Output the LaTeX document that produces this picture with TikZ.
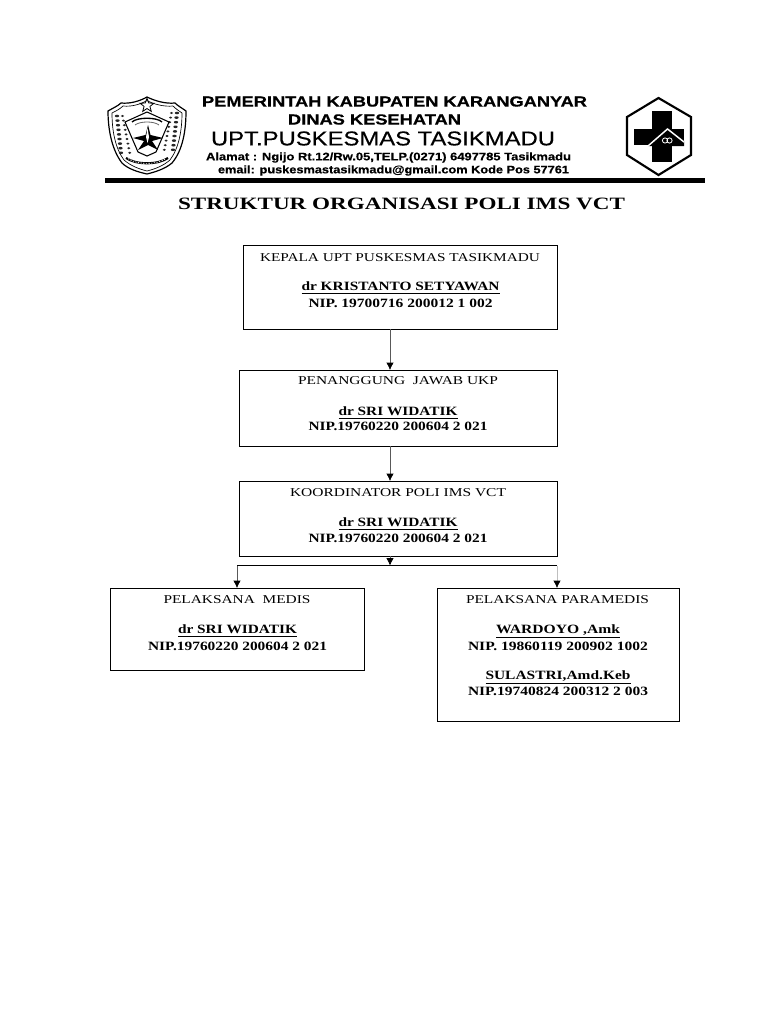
\documentclass[tikz,border=0pt]{standalone}
\usepackage{fontspec}
\usepackage{graphicx}
\setmainfont{Liberation Serif}
\setsansfont{Liberation Sans}[BoldFeatures={FakeBold=0.5}]
\newfontfamily\upfont[FakeBold=0.35]{Liberation Sans}
\usetikzlibrary{arrows.meta,shapes.geometric}
\newsavebox{\fitbox}
\newcommand{\fitw}[2]{\sbox{\fitbox}{#2}\pgfmathparse{#1*0.75/\the\wd\fitbox}\scalebox{\pgfmathresult}[1]{\usebox{\fitbox}}}
\tikzset{
  x=0.75pt,y=-0.75pt,
  orgbox/.style={draw=black,line width=0.6pt,fill=white,inner sep=0pt,outer sep=0pt},
  txt/.style={inner sep=0pt,outer sep=0pt,anchor=center,text=black},
  conn/.style={draw=black!65,line width=0.5pt,-{Latex[length=5.5pt,width=5.5pt,black]}},
  junc/.style={draw=black,line width=0.6pt},
}
\newcommand{\lbl}[4]{\node[txt] at (#1,#2) {\fitw{#3}{\fontsize{9}{10}\selectfont #4}};}
\newcommand{\nam}[4]{\node[txt] at (#1,#2) {\fitw{#3}{\fontsize{9.5}{10}\selectfont\bfseries\underline{#4}}};}
\newcommand{\nip}[4]{\node[txt] at (#1,#2) {\fitw{#3}{\fontsize{9.5}{10}\selectfont\bfseries #4}};}
\begin{document}
\begin{tikzpicture}
\useasboundingbox[fill=white] (0,0) rectangle (768,1024);
% header text
\node[txt] (h1) at (394.5,101.5) {\fitw{385}{\sffamily\bfseries\fontsize{11}{12}\selectfont PEMERINTAH KABUPATEN KARANGANYAR}};
\node[txt] (h2) at (374.5,119.5) {\fitw{173}{\sffamily\bfseries\fontsize{11}{12}\selectfont DINAS KESEHATAN}};
\node[txt] (h3) at (383,138.5) {\fitw{344}{\upfont\fontsize{15}{16}\selectfont UPT.PUSKESMAS TASIKMADU}};
\node[txt] (h4) at (388.5,157.5) {\fitw{365}{\sffamily\bfseries\fontsize{8.2}{10}\selectfont Alamat : Ngijo Rt.12/Rw.05,TELP.(0271) 6497785 Tasikmadu}};
\node[txt] (h5) at (393.5,170.5) {\fitw{351}{\sffamily\bfseries\fontsize{8.2}{10}\selectfont email: puskesmastasikmadu@gmail.com Kode Pos 57761}};
\fill[black] (105,178) rectangle (705,182.5);
\node[txt] (title) at (401.5,204) {\fitw{447}{\fontsize{13}{15}\selectfont\bfseries STRUKTUR ORGANISASI POLI IMS VCT}};
% crest
\draw[black,line width=0.9pt,fill=white] (108,111) .. controls (113,108) and (118,106) .. (121,103) .. controls (130,104) and (140,101) .. (147,97) .. controls (155,101) and (166,104) .. (175,103) .. controls (178,106) and (182,108) .. (186,111) .. controls (186,130) and (183,150) .. (172,163) .. controls (165,169) and (155,172) .. (147,174) .. controls (138,172) and (128,169) .. (122,163) .. controls (112,150) and (108,130) .. (108,111) -- cycle;
\draw[black,line width=0.5pt] (112,113) .. controls (116,111) and (120,109) .. (123,106) .. controls (132,107) and (141,104) .. (147,100.5) .. controls (153,104) and (164,107) .. (173,106) .. controls (176,109) and (179,111) .. (182,113) .. controls (182,130) and (179,148) .. (170,160) .. controls (163,166) and (155,169) .. (147,171) .. controls (139,169) and (131,166) .. (124,160) .. controls (115,148) and (112,130) .. (112,113) -- cycle;
\node[star,star points=5,star point ratio=2.4,draw=black,line width=0.6pt,minimum size=11pt,inner sep=0pt] (cstar) at (147,105.5) {};
% rice and cotton sprays
\foreach \i in {0,...,8}{
  \fill[black!85] ({117+\i*0.5},{116+\i*4.6}) ellipse (2.2 and 1.3);
  \fill[black!85] ({122.5+\i*0.9},{116+\i*4.6}) ellipse (1.6 and 1.1);
  \fill[black!85] ({177-\i*0.5},{113+\i*4.6}) ellipse (2.2 and 1.3);
  \fill[black!85] ({171.5-\i*0.9},{113+\i*4.6}) ellipse (1.6 and 1.1);
}
% roof and inner emblem
\draw[black,line width=0.8pt] (125,122) -- (147,112) -- (169,122) -- (156,152) -- (147,156) -- (138,152) -- cycle;
\draw[black,line width=1pt] (132,122) .. controls (137,117) and (157,117) .. (162,122);
\draw[black!60,line width=0.6pt] (135,125) .. controls (140,121) and (154,121) .. (159,125);
\fill[black] (148,125) -- (150.5,135) -- (163,138) -- (152,141) -- (158,150) -- (148,145) -- (138,150) -- (144,141) -- (133,138) -- (145.5,135) -- cycle;
\fill[white] (147.5,128) -- (149,137) -- (147.5,143) -- (146,137) -- cycle;
\draw[black,line width=1.6pt] (126,158) .. controls (136,165) and (158,165) .. (168,158);
\draw[white,line width=0.5pt,dash pattern=on 1pt off 1pt] (128,158.6) .. controls (137,165) and (157,165) .. (166,158.6);
% kemenkes logo
\draw[black,line width=1.6pt,fill=white] (658.5,98) -- (691,117) -- (691,155) -- (658.5,175) -- (627,155) -- (627,117) -- cycle;
\fill[black] (652,111) rectangle (672,162);
\fill[black] (634,129) rectangle (684,145);
\fill[black] (648,146) -- (667.5,128) -- (684,141) -- (684,146) -- cycle;
\draw[white,line width=1.1pt] (648,146) -- (667.5,129) -- (684,142);
\draw[white,line width=0.6pt] (665,140.5) circle (2.6) (669.5,140.5) circle (2.6);
% org boxes
\node[orgbox,minimum width=235.5pt,minimum height=63pt] (a) at (400.5,287) {};
\node[orgbox,minimum width=238.5pt,minimum height=57pt] (b) at (398,408) {};
\node[orgbox,minimum width=238.5pt,minimum height=56.25pt] (c) at (398,518.5) {};
\node[orgbox,minimum width=190.5pt,minimum height=61.5pt] (d) at (237,629) {};
\node[orgbox,minimum width=181.5pt,minimum height=99.75pt] (e) at (558,654.5) {};
% connectors
\coordinate (j) at (390,565.5);
\coordinate (jl) at (237,565.5);
\coordinate (jr) at (557,565.5);
\draw[conn] (a.south -| j) -- (b.north -| j);
\draw[conn] (b.south -| j) -- (c.north -| j);
\draw[conn] (c.south -| j) -- (j);
\draw[junc] (jl) -- (jr);
\draw[conn] (jl) -- (d.north -| jl);
\draw[conn,draw=black!25] (jr) -- (e.north -| jr);
% texts
\lbl{400}{257.5}{280}{KEPALA UPT PUSKESMAS TASIKMADU}
\nam{400.5}{288}{198}{dr KRISTANTO SETYAWAN}
\nip{400.5}{303}{184}{NIP. 19700716 200012 1 002}
\lbl{398}{381}{200}{PENANGGUNG\ \ JAWAB UKP}
\nam{398}{413}{119}{dr SRI WIDATIK}
\nip{398}{426}{179}{NIP.19760220 200604 2 021}
\lbl{398}{493}{216}{KOORDINATOR POLI IMS VCT}
\nam{398}{524}{119}{dr SRI WIDATIK}
\nip{398}{538}{179}{NIP.19760220 200604 2 021}
\lbl{237}{600}{147}{PELAKSANA\ \ MEDIS}
\nam{237.5}{631}{119}{dr SRI WIDATIK}
\nip{237.5}{646}{179}{NIP.19760220 200604 2 021}
\lbl{557.5}{600}{183}{PELAKSANA PARAMEDIS}
\nam{558}{631}{124}{WARDOYO ,Amk}
\nip{558}{646}{180}{NIP. 19860119 200902 1002}
\nam{558}{677}{145}{SULASTRI,Amd.Keb}
\nip{558}{691}{180}{NIP.19740824 200312 2 003}
\end{tikzpicture}
\end{document}
